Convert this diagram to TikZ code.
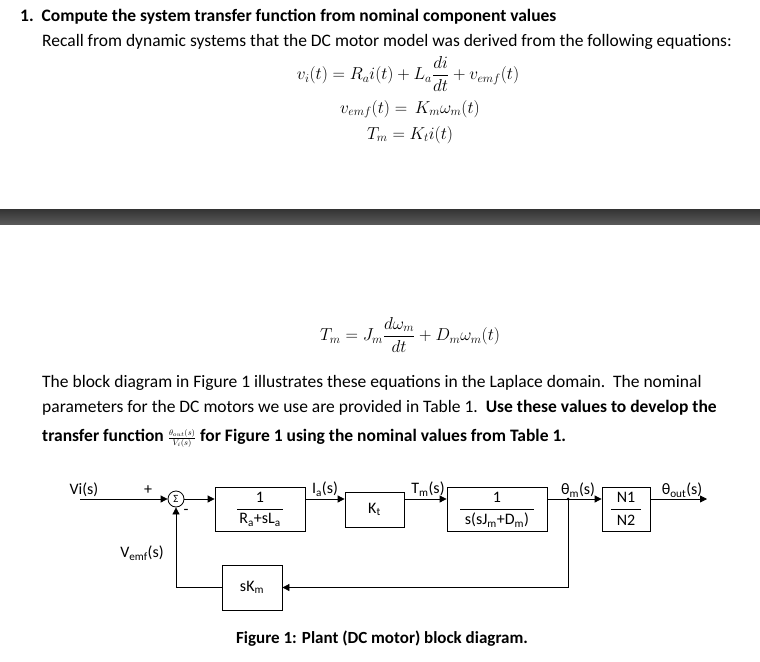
\documentclass[tikz,border=0pt]{standalone}
\usepackage{amsmath}
\usepackage{fontspec}
\setmainfont{Carlito}
\usetikzlibrary{arrows.meta}
\begin{document}
\begin{tikzpicture}[x=1pt,y=-1pt,
  txt/.style={font=\fontsize{17.5}{20}\selectfont,inner sep=0pt},
  eq/.style={font=\fontsize{18}{21}\selectfont,inner sep=0pt},
  blk/.style={draw,thick,inner sep=0pt},
  lbl/.style={font=\fontsize{16}{18}\selectfont,inner sep=0pt},
  sig/.style={thick,-{Triangle[length=7pt,width=7pt]}},
  ln/.style={thick}]
\useasboundingbox (0,0) rectangle (760,661);
\fill[top color=black!80,bottom color=black!65] (0,209) rectangle (760,224);
\node[txt,anchor=west,font=\fontsize{17.5}{20}\selectfont\bfseries] (t1) at (20,17) {1.\ \ Compute the system transfer function from nominal component values};
\node[txt,anchor=west] (t2) at (42,42) {Recall from dynamic systems that the DC motor model was derived from the following equations:};
\node[eq] (e1) at (408,74) {$v_i(t)=R_a i(t)+L_a\dfrac{di}{dt}+v_{emf}(t)$};
\node[eq] (e2) at (410,109) {$v_{emf}(t)=\,K_m\omega_m(t)$};
\node[eq] (e3) at (410,135) {$T_m=K_t i(t)$};
\node[eq] (e4) at (410,335) {$T_m=J_m\dfrac{d\omega_m}{dt}+D_m\omega_m(t)$};
\node[txt,anchor=west] (p1) at (42,383) {The block diagram in Figure 1 illustrates these equations in the Laplace domain.\ \ The nominal};
\node[txt,anchor=west] (p2) at (42,408) {parameters for the DC motors we use are provided in Table 1.\ \ \textbf{Use these values to develop the}};
\node[txt,anchor=west,font=\fontsize{17.5}{20}\selectfont\bfseries] (p3) at (42,438) {transfer function {\large$\frac{\theta_{out}(s)}{V_i(s)}$} for Figure 1 using the nominal values from Table 1.};
% block diagram
\node[draw,thick,circle,minimum size=16pt,inner sep=0pt,font=\fontsize{11}{12}\selectfont] (sum) at (176,499) {Σ};
\coordinate (in) at (80,499);
\node[blk,minimum width=90pt,minimum height=44pt] (b1) at (260,509) {};
\node[lbl] at (260,497) {1};
\draw[thick] (237,509)--(283,509);
\node[lbl] at (260,520) {R\textsubscript{a}+sL\textsubscript{a}};
\node[blk,minimum width=59pt,minimum height=35pt,lbl] (b2) at (374.5,509.5) {K\textsubscript{t}};
\node[blk,minimum width=100pt,minimum height=44pt] (b3) at (497,509) {};
\node[lbl] at (497,497) {1};
\draw[thick] (460,509)--(534,509);
\node[lbl] at (497,520) {s(sJ\textsubscript{m}+D\textsubscript{m})};
\node[blk,minimum width=48pt,minimum height=44pt] (b4) at (626,509) {};
\node[lbl] at (626,497) {N1};
\draw[thick] (611,509)--(641,509);
\node[lbl] at (626,520) {N2};
\node[blk,minimum width=60pt,minimum height=45pt,lbl] (b5) at (252,587.5) {sK\textsubscript{m}};
\coordinate (br) at (568,499);
\coordinate (out) at (707,499);
\draw[sig] (in) -- (sum);
\draw[sig] (sum) -- (b1.west|-sum);
\draw[sig] (b1.east|-sum) -- (b2.west|-sum);
\draw[sig] (b2.east|-sum) -- (b3.west|-sum);
\draw[ln] (b3.east|-sum) -- (br);
\draw[sig] (br) -- (b4.west|-sum);
\draw[sig] (b4.east|-sum) -- (out);
\fill (br) circle (1.5pt);
\draw[sig] (br) |- (b5.east);
\draw[sig] (b5.west) -| (sum.south);
\node[lbl] (l1) at (84,490) {Vi(s)};
\node[lbl] (l2) at (148,490) {+};
\node[lbl] (l3) at (186,512) {-};
\node[lbl] (l4) at (325,489) {I\textsubscript{a}(s)};
\node[lbl] (l5) at (428,489) {T\textsubscript{m}(s)};
\node[lbl] (l6) at (578,490) {θ\textsubscript{m}(s)};
\node[lbl] (l7) at (682,490) {θ\textsubscript{out}(s)};
\node[lbl] (l8) at (142,553) {V\textsubscript{emf}(s)};
\node[txt,font=\fontsize{17}{20}\selectfont\bfseries] (cap) at (382,639) {Figure 1: Plant (DC motor) block diagram.};
\end{tikzpicture}
\end{document}
